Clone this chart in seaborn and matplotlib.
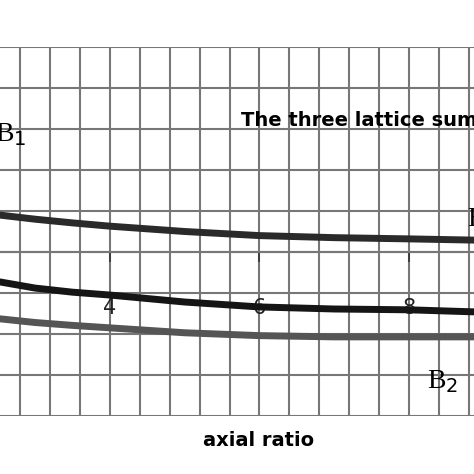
import numpy as np
import matplotlib
matplotlib.use("Agg")
import matplotlib.pyplot as plt
import seaborn as sns

sns.set_style("white")

x = [2.53, 3.0, 3.5, 4.0, 5.0, 6.0, 7.0, 8.0, 8.87]
upper = [0.90, 0.80, 0.71, 0.63, 0.50, 0.40, 0.35, 0.32, 0.29]
middle = [-0.73, -0.88, -0.98, -1.05, -1.22, -1.34, -1.39, -1.41, -1.46]
lower = [-1.63, -1.72, -1.79, -1.85, -1.97, -2.04, -2.07, -2.07, -2.07]
major_ticks = [4, 6, 8]

fig = plt.figure(figsize=(4.74, 4.74), dpi=100)
ax = fig.add_axes([0, 1 - 416 / 474, 1, 369 / 474])
ax.set_xlim(2.53, 8.87)
ax.set_ylim(-4, 5)

ax.set_xticks(major_ticks)
ax.set_xticks(np.arange(2.8, 8.9, 0.4), minor=True)
ax.set_yticks(np.arange(-4, 5.1, 1))
ax.grid(True, which="both", color="#777777", lw=1.5)
ax.tick_params(axis="y", left=False, labelleft=False)
ax.tick_params(axis="x", which="minor", length=0)
ax.tick_params(axis="x", which="major", bottom=True, direction="out", length=7, width=1.2,
               color="#333333", pad=26, labelsize=15, labelcolor="#222222")
for lab in ax.get_xticklabels():
    lab.set_family("Liberation Serif")
for s in ["top", "left", "right"]:
    ax.spines[s].set_visible(False)
ax.spines["bottom"].set_position(("data", 0))
ax.spines["bottom"].set_color("#777777")
ax.spines["bottom"].set_linewidth(1.5)

sns.lineplot(x=x, y=upper, ax=ax, color="#2a2a2a", lw=5)
sns.lineplot(x=x, y=middle, ax=ax, color="#151515", lw=5)
sns.lineplot(x=x, y=lower, ax=ax, color="#555555", lw=5)

fig.text(-0.01, 1 - 135 / 474, "B$_1$", family="Liberation Serif", fontsize=20, va="center", color="black")
fig.text(241 / 474, 1 - 120 / 474, "The three lattice sums", fontsize=14, weight="bold", va="center", color="black")
fig.text(467 / 474, 1 - 220 / 474, "B", family="Liberation Serif", fontsize=20, va="center", color="black")
fig.text(427 / 474, 1 - 382 / 474, "B$_2$", family="Liberation Serif", fontsize=20, va="center", color="black")
fig.text(259 / 474, 1 - 440 / 474, "axial ratio", fontsize=14, weight="bold", ha="center", va="center", color="black")

fig.savefig("out.png", dpi=100)
